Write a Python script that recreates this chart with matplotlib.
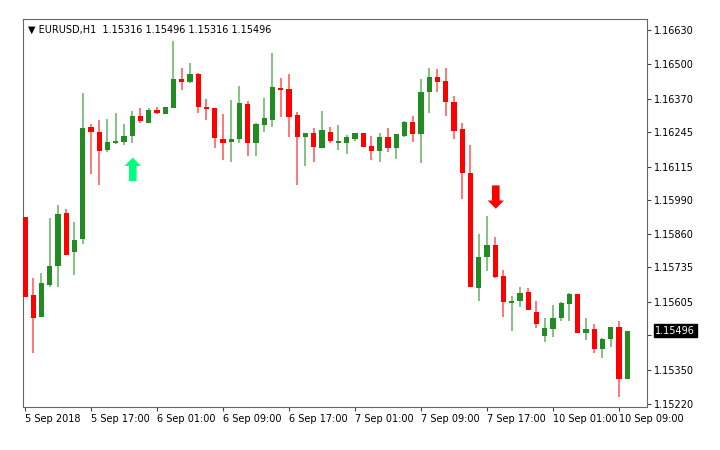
import matplotlib
matplotlib.use("Agg")
import matplotlib.pyplot as plt
from matplotlib.patches import Rectangle

opens = [1.15925,1.15631,1.15548,1.15669,1.15740,1.15940,1.15793,1.15842,1.16264,1.16245,
         1.16178,1.16204,1.16208,1.16230,1.16306,1.16279,1.16328,1.16313,1.16336,1.16445,
         1.16434,1.16464,1.16340,1.16336,1.16219,1.16208,1.16219,1.16351,1.16204,1.16272,
         1.16291,1.16411,1.16408,1.16310,1.16227,1.16242,1.16185,1.16245,1.16204,1.16204,
         1.16219,1.16242,1.16193,1.16174,1.16227,1.16185,1.16230,1.16283,1.16238,1.16396,
         1.16453,1.16438,1.16359,1.16257,1.16091,1.15657,1.15774,1.15819,1.15703,1.15601,
         1.15608,1.15642,1.15567,1.15476,1.15503,1.15544,1.15597,1.15635,1.15488,1.15503,
         1.15427,1.15465,1.15510,1.15316]
highs = [1.15925,1.15695,1.15714,1.15921,1.15970,1.15955,1.15906,1.16392,1.16276,1.16291,
         1.16294,1.16317,1.16276,1.16325,1.16336,1.16336,1.16340,1.16340,1.16589,1.16487,
         1.16506,1.16468,1.16370,1.16336,1.16313,1.16366,1.16419,1.16362,1.16279,1.16374,
         1.16543,1.16449,1.16464,1.16321,1.16242,1.16261,1.16325,1.16264,1.16272,1.16234,
         1.16242,1.16242,1.16230,1.16242,1.16261,1.16238,1.16287,1.16306,1.16445,1.16487,
         1.16483,1.16487,1.16381,1.16279,1.16196,1.15861,1.15929,1.15850,1.15725,1.15627,
         1.15661,1.15657,1.15608,1.15544,1.15593,1.15605,1.15638,1.15635,1.15544,1.15522,
         1.15469,1.15510,1.15533,1.15496]
lows = [1.15623,1.15412,1.15548,1.15661,1.15661,1.15782,1.15706,1.15823,1.16087,1.16046,
        1.16170,1.16200,1.16196,1.16204,1.16279,1.16279,1.16313,1.16313,1.16336,1.16404,
        1.16430,1.16317,1.16291,1.16185,1.16140,1.16132,1.16204,1.16155,1.16155,1.16245,
        1.16264,1.16302,1.16227,1.16046,1.16117,1.16132,1.16185,1.16204,1.16178,1.16163,
        1.16212,1.16189,1.16140,1.16132,1.16170,1.16144,1.16227,1.16208,1.16129,1.16317,
        1.16396,1.16306,1.16219,1.15993,1.15661,1.15608,1.15721,1.15695,1.15548,1.15495,
        1.15586,1.15574,1.15507,1.15454,1.15473,1.15533,1.15533,1.15488,1.15461,1.15412,
        1.15393,1.15435,1.15246,1.15316]
closes = [1.15623,1.15544,1.15676,1.15740,1.15936,1.15782,1.15838,1.16261,1.16245,1.16174,
          1.16208,1.16212,1.16230,1.16306,1.16287,1.16328,1.16317,1.16340,1.16445,1.16434,
          1.16464,1.16340,1.16332,1.16223,1.16204,1.16219,1.16355,1.16204,1.16276,1.16298,
          1.16415,1.16404,1.16302,1.16227,1.16242,1.16189,1.16253,1.16212,1.16212,1.16227,
          1.16242,1.16189,1.16174,1.16227,1.16185,1.16238,1.16283,1.16238,1.16396,1.16453,
          1.16434,1.16359,1.16249,1.16091,1.15661,1.15774,1.15819,1.15699,1.15605,1.15608,
          1.15638,1.15574,1.15522,1.15507,1.15544,1.15601,1.15635,1.15488,1.15503,1.15427,
          1.15465,1.15510,1.15314,1.15496]
time_labels = ["5 Sep 2018","5 Sep 17:00","6 Sep 01:00","6 Sep 09:00","6 Sep 17:00",
               "7 Sep 01:00","7 Sep 09:00","7 Sep 17:00","10 Sep 01:00","10 Sep 09:00"]
price_ticks = [1.16630,1.16500,1.16370,1.16245,1.16115,1.15990,1.15860,1.15735,1.15605,1.15480,1.15350,1.15220]
title = "EURUSD,H1  1.15316 1.15496 1.15316 1.15496"
last_price = 1.15496
buy_idx, buy_price = 13, 1.16091
sell_idx, sell_price = 57, 1.15990

fig = plt.figure(figsize=(7.2, 4.5), dpi=100)
ax = fig.add_axes([23/720, 43/450, 624/720, 388/450])
up_c, dn_c = "#228B22", "#FF0000"
up_w, dn_w = "#6FB86F", "#FF6060"
bw = 0.62
for i, (o, h, l, c) in enumerate(zip(opens, highs, lows, closes)):
    up = c >= o
    ax.vlines(i, l, h, color=up_w if up else dn_w, lw=1.2, zorder=2)
    ax.add_patch(Rectangle((i - bw/2, min(o, c)), bw, max(abs(c - o), 0.000015),
                           facecolor=up_c if up else dn_c, edgecolor="none", zorder=3))

ax.set_xlim(-0.24, 75.4)
ax.set_ylim(1.15209, 1.16671)
ax.set_xticks(range(0, 8*len(time_labels), 8))
ax.set_xticklabels(time_labels, ha="left", fontsize=7)
ax.yaxis.tick_right()
ax.set_yticks(price_ticks)
# the tick label hidden under the current-price box is left empty
ax.set_yticklabels(["" if abs(p - last_price) < 0.0003 else f"{p:.5f}" for p in price_ticks], fontsize=7)
ax.tick_params(direction="out", length=3, color="#444444", pad=2)
for s in ax.spines.values():
    s.set_color("#666666")
ax.text(0.008, 0.985, "▼ " + title, transform=ax.transAxes, fontsize=7, va="top", ha="left")
ax.annotate(f"{last_price:.5f}", xy=(1.0, last_price), xycoords=("axes fraction", "data"),
            xytext=(6, 0), textcoords="offset points", va="center", ha="left", fontsize=7,
            color="white", bbox=dict(boxstyle="square,pad=0.15", fc="black", ec="black"),
            annotation_clip=False, zorder=10)
ax.text(buy_idx, buy_price, "⬆", color="#00FF7F", fontsize=22, ha="center", va="center",
        fontweight="bold", zorder=5)
ax.text(sell_idx, sell_price, "⬇", color="#FF0000", fontsize=22, ha="center", va="center",
        fontweight="bold", zorder=5)
fig.savefig("out.png", dpi=100)
